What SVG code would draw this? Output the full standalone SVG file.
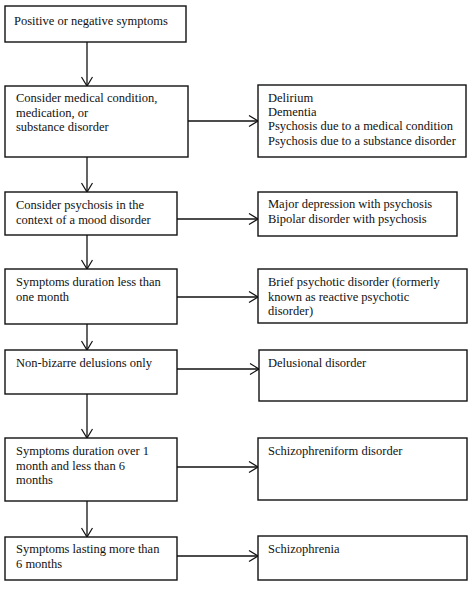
<svg xmlns="http://www.w3.org/2000/svg" width="474" height="593" viewBox="0 0 474 593">
<defs>
<marker id="arr" markerUnits="userSpaceOnUse" markerWidth="12" markerHeight="14" refX="10" refY="6" orient="auto">
<path d="M1,0.5 L10,6 L1,11.5" fill="none" stroke="#111" stroke-width="1.2"/>
</marker>
</defs>
<style>
rect{fill:#fff;stroke:#111;stroke-width:1.4}
text{font-family:"Liberation Serif","Times New Roman",serif;font-size:12.5px;fill:#111}
.c line{stroke:#111;stroke-width:1.3;marker-end:url(#arr)}
</style>
<rect x="0" y="0" width="474" height="593" style="fill:#fff;stroke:none"/>
<g class="c" id="connectors">
<line x1="87" y1="42" x2="87" y2="86"/>
<line x1="188" y1="121" x2="258" y2="121"/>
<line x1="87" y1="157" x2="87" y2="192"/>
<line x1="177" y1="219" x2="258" y2="219"/>
<line x1="87" y1="235" x2="87" y2="269"/>
<line x1="177" y1="297" x2="258" y2="297"/>
<line x1="87" y1="324" x2="87" y2="350"/>
<line x1="177" y1="369" x2="259" y2="369"/>
<line x1="87" y1="394" x2="87" y2="438"/>
<line x1="177" y1="467" x2="258" y2="467"/>
<line x1="87" y1="501" x2="87" y2="537"/>
<line x1="177" y1="556" x2="258" y2="556"/>
</g>
<g id="n1"><rect x="5" y="6" width="181" height="36"/><text x="14" y="24.5">Positive or negative symptoms</text></g>
<g id="n2"><rect x="5" y="86" width="183" height="71"/><text x="16" y="102">Consider medical condition,</text><text x="16" y="116.5">medication, or</text><text x="16" y="131">substance disorder</text></g>
<g id="r2"><rect x="258" y="85" width="208" height="72"/><text x="268" y="102">Delirium</text><text x="268" y="116">Dementia</text><text x="268" y="130">Psychosis due to a medical condition</text><text x="268" y="144.5">Psychosis due to a substance disorder</text></g>
<g id="n3"><rect x="5" y="192" width="172" height="43"/><text x="16" y="209">Consider psychosis in the</text><text x="16" y="223.5">context of a mood disorder</text></g>
<g id="r3"><rect x="258" y="192" width="199" height="44"/><text x="268" y="208">Major depression with psychosis</text><text x="268" y="222.5">Bipolar disorder with psychosis</text></g>
<g id="n4"><rect x="5" y="269" width="172" height="55"/><text x="16" y="286">Symptoms duration less than</text><text x="16" y="300.5">one month</text></g>
<g id="r4"><rect x="258" y="269" width="209" height="54"/><text x="268" y="286">Brief psychotic disorder (formerly</text><text x="268" y="300.5">known as reactive psychotic</text><text x="268" y="315">disorder)</text></g>
<g id="n5"><rect x="5" y="350" width="172" height="44"/><text x="16" y="367">Non-bizarre delusions only</text></g>
<g id="r5"><rect x="259" y="350" width="208" height="51"/><text x="268" y="367">Delusional disorder</text></g>
<g id="n6"><rect x="5" y="438" width="172" height="63"/><text x="16" y="455">Symptoms duration over 1</text><text x="16" y="469.5">month and less than 6</text><text x="16" y="484">months</text></g>
<g id="r6"><rect x="258" y="438" width="209" height="62"/><text x="268" y="455">Schizophreniform disorder</text></g>
<g id="n7"><rect x="5" y="537" width="172" height="43"/><text x="16" y="553">Symptoms lasting more than</text><text x="16" y="567.5">6 months</text></g>
<g id="r7"><rect x="258" y="536" width="209" height="44"/><text x="268" y="553">Schizophrenia</text></g>
</svg>
